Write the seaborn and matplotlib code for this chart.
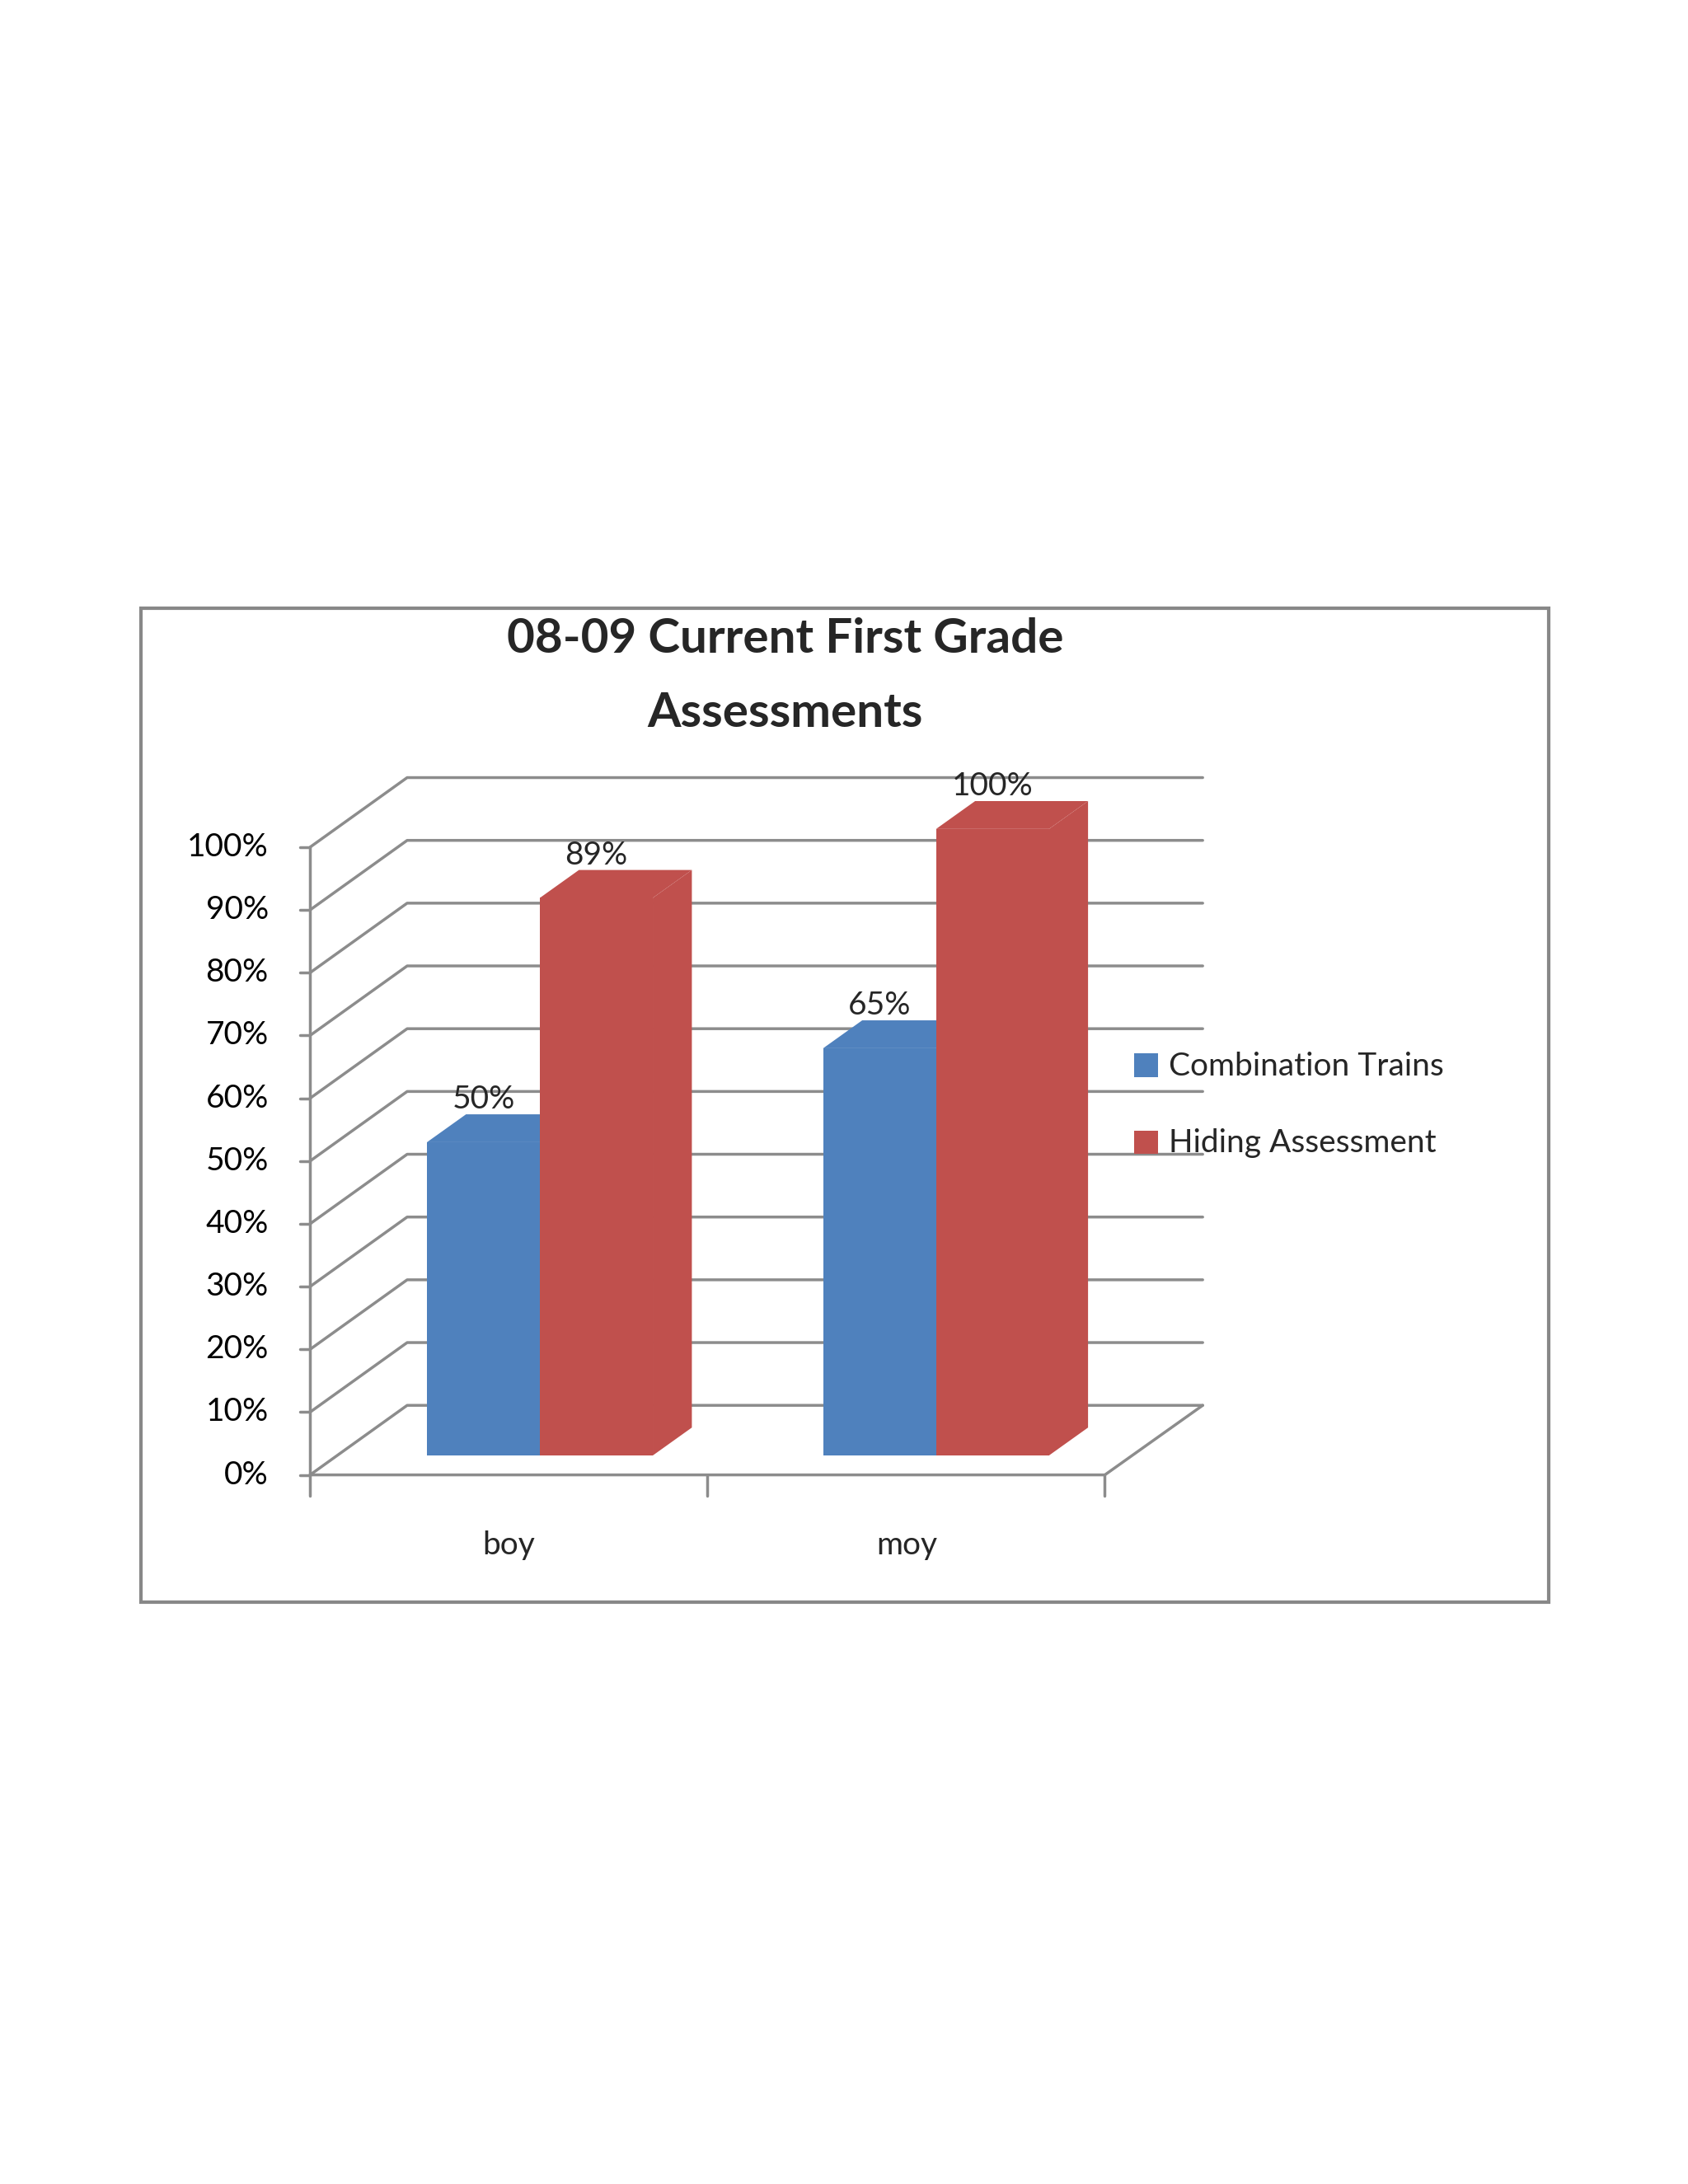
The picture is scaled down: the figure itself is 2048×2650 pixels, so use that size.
import matplotlib
matplotlib.use("Agg")
import matplotlib.pyplot as plt
import seaborn as sns
import pandas as pd
from matplotlib.patches import Polygon, Rectangle

categories = ["boy", "moy"]
series = ["Combination Trains", "Hiding Assessment"]
combination_trains = [50, 65]
hiding_assessment = [89, 100]
value_labels = ["50%", "65%", "89%", "100%"]
yticks = [0, 10, 20, 30, 40, 50, 60, 70, 80, 90, 100]

colors = {"Combination Trains": "#4F81BD", "Hiding Assessment": "#C0504D"}
side_colors = {"#4F81BD": "#3A6395", "#C0504D": "#7B3030"}
top_colors = {"#4F81BD": "#3C679A", "#C0504D": "#8F3A37"}

df = pd.DataFrame({
    "cat": categories * 2,
    "series": [series[0]] * 2 + [series[1]] * 2,
    "val": combination_trains + hiding_assessment,
})

sns.set_theme(style="white")
plt.rcParams["font.family"] = ["Lato", "DejaVu Sans"]

W, H = 1210, 1565
fig = plt.figure(figsize=(20.48, 26.5), dpi=100)
fig.patch.set_facecolor("white")
# outer frame
fig.add_artist(Rectangle((101 / W, 1 - 1148 / H), (1110 - 101) / W, (1148 - 436) / H,
                         transform=fig.transFigure, fill=False, edgecolor="#888888", lw=3))

ax = fig.add_axes([103 / W, 1 - 1148 / H, (955 - 103) / W, (1148 - 436) / H])
ax.set_xlim(-1.0, 2.0)
ax.set_ylim(-23.4, 135.2)
ax.axis("off")

sns.barplot(data=df, x="cat", y="val", hue="series", palette=colors, width=0.57,
            ax=ax, legend=False, saturation=1, zorder=5, linewidth=0)
ax.set_xlim(-1.0, 2.0)
ax.set_ylim(-23.4, 135.2)
ax.axis("off")

grid_c = "#8C8C8C"
s = 1.002
xf0, xb0, xb1, xf1 = -0.58, -0.335, 1.673, 1.426
for v in yticks:
    ax.plot([xf0, xb0, xb1], [v * s - 3.1, v * s + 8.0, v * s + 8.0], color=grid_c, lw=2.5, zorder=1)
    ax.plot([xf0 - 0.025, xf0], [v * s - 3.1] * 2, color=grid_c, lw=2.5, zorder=1)
    ax.text(-0.685, v * s - 3.1, f"{v}%", ha="right", va="center", fontsize=28, color="black")
ax.plot([xf0, xf0], [-3.1, 100 * s - 3.1], color=grid_c, lw=2.5, zorder=1)
ax.plot([xf0, xf1, xb1], [-3.1, -3.1, 8.0], color=grid_c, lw=2.5, zorder=1)
for xt in [xf0, 0.423, xf1]:
    ax.plot([xt, xt], [-3.1, -6.5], color=grid_c, lw=2.5, zorder=1)
for i, c in enumerate(categories):
    ax.text(-0.078 + i * 1.004, -14.3, c, ha="center", va="center", fontsize=28)

ddx, ddy = 28 / 284, 20 / 4.49
bars = [p for p in ax.patches if p.get_height() > 0]
bars.sort(key=lambda p: p.get_x())
from matplotlib.colors import to_hex
for p in bars:
    x0, w, h = p.get_x(), p.get_width(), p.get_height()
    x1 = x0 + w
    fc = to_hex(p.get_facecolor())
    ax.add_patch(Polygon([(x1, 0), (x1, h), (x1 + ddx, h + ddy), (x1 + ddx, ddy)],
                         closed=True, facecolor=side_colors.get(fc, fc), lw=0, zorder=3))
    ax.add_patch(Polygon([(x0, h), (x1, h), (x1 + ddx, h + ddy), (x0 + ddx, h + ddy)],
                         closed=True, facecolor=top_colors.get(fc, fc), lw=0, zorder=3))

ordered = sorted(bars, key=lambda p: (p.get_facecolor()[0], p.get_x()))
vals = combination_trains + hiding_assessment
blue = sorted([p for p in bars if to_hex(p.get_facecolor()) == "#4f81bd"], key=lambda p: p.get_x())
red = sorted([p for p in bars if to_hex(p.get_facecolor()) == "#c0504d"], key=lambda p: p.get_x())
for p, lab in zip(blue + red, value_labels):
    ax.text(p.get_x() + p.get_width() / 2, p.get_height() + 6.8, lab, ha="center", va="center",
            fontsize=28, zorder=10)

# title
fig.text(563 / W, 1 - 458 / H, "08-09 Current First Grade", ha="center", va="center",
         fontsize=42, fontweight="bold")
fig.text(563 / W, 1 - 511 / H, "Assessments", ha="center", va="center",
         fontsize=42, fontweight="bold")

# legend
for i, sname in enumerate(series):
    yy = 764 + 55 * i
    fig.add_artist(Rectangle((813 / W, 1 - (yy + 8) / H), 17 / W, 17 / H, transform=fig.transFigure,
                             facecolor=colors[sname], lw=0))
    fig.text(838 / W, 1 - yy / H, sname, ha="left", va="center", fontsize=28)

fig.savefig("out.png", dpi=100, facecolor="white")
